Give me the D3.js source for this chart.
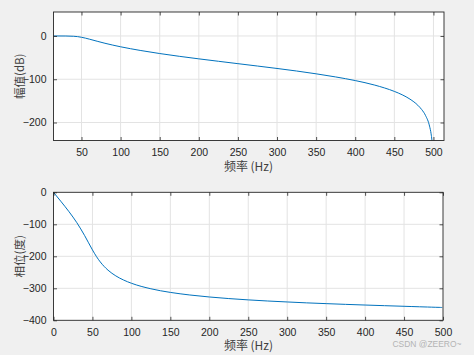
<!DOCTYPE html>
<html>
<head>
<meta charset="utf-8">
<script src="https://cdn.jsdelivr.net/npm/d3@7"></script>
<style>
  html, body { margin: 0; padding: 0; background: #f0f0f0; }
  svg { display: block; }
  text { font-family: "Liberation Sans", Arial, sans-serif; }
</style>
</head>
<body>
<svg id="chart" width="474" height="355"></svg>
<script>
// Frequency samples (Hz)
const freq = [0,10,20,30,40,45,50,55,60,70,80,90,100,125,150,175,200,225,250,275,300,325,350,375,400,425,450,460,470,480,485,490,495,497,498,499];
// Magnitude (dB)
const magDb = [0,0,0,-0.1,-0.7,-1.5,-3.0,-5.0,-7.3,-12.2,-16.9,-21.1,-25.0,-33.4,-40.6,-47.0,-52.9,-58.5,-64.0,-69.5,-75.1,-81.0,-87.5,-94.7,-103.1,-113.6,-128.1,-135.9,-146.0,-160.1,-170.1,-184.2,-208.3,-226.1,-240.2,-264.3];
// Phase (degrees)
const phaseDeg = [0,-29.9,-60.9,-95.1,-135.4,-157.8,-180,-200.3,-217.5,-243.4,-261.2,-274.2,-284.2,-301.5,-312.8,-320.9,-327.1,-332.1,-336.2,-339.7,-342.7,-345.5,-347.9,-350.2,-352.3,-354.3,-356.2,-357.0,-357.8,-358.5,-358.9,-359.3,-359.6,-359.8,-359.9,-359.9];

const topXTicks = [50,100,150,200,250,300,350,400,450,500];
const topYTicks = [0,-100,-200];
const botXTicks = [0,50,100,150,200,250,300,350,400,450,500];
const botYTicks = [0,-100,-200,-300,-400];

const xLabel = "频率 (Hz)";
const topYLabel = "幅值(dB)";
const botYLabel = "相位(度)";
const watermark = "CSDN @ZEERO~";

const svg = d3.select("#chart");
const lineColor = "#0072bd";
const axisColor = "#262626";
const gridColor = "#e3e3e3";
const tickLen = 3.5;

function panel(cfg) {
  const {left, right, top, bottom, xDomain, yDomain, xTicks, yTicks, yVals, yLabel, id} = cfg;
  const x = d3.scaleLinear().domain(xDomain).range([left, right]);
  const y = d3.scaleLinear().domain(yDomain).range([bottom, top]);
  const g = svg.append("g");

  g.append("rect").attr("x", left).attr("y", top)
    .attr("width", right - left).attr("height", bottom - top)
    .attr("fill", "#ffffff");

  // grid
  g.append("g").selectAll("line").data(xTicks.filter(t => x(t) > left + 0.5 && x(t) < right - 0.5)).join("line")
    .attr("x1", d => x(d)).attr("x2", d => x(d)).attr("y1", top).attr("y2", bottom)
    .attr("stroke", gridColor).attr("stroke-width", 1);
  g.append("g").selectAll("line").data(yTicks.filter(t => y(t) > top + 0.5 && y(t) < bottom - 0.5)).join("line")
    .attr("y1", d => y(d)).attr("y2", d => y(d)).attr("x1", left).attr("x2", right)
    .attr("stroke", gridColor).attr("stroke-width", 1);

  // clip
  svg.append("clipPath").attr("id", id).append("rect")
    .attr("x", left).attr("y", top).attr("width", right - left).attr("height", bottom - top);

  const line = d3.line().x((d, i) => x(freq[i])).y(d => y(d)).curve(d3.curveMonotoneX);
  g.append("path").datum(yVals).attr("d", line)
    .attr("fill", "none").attr("stroke", lineColor).attr("stroke-width", 1)
    .attr("clip-path", `url(#${id})`);

  // axes with inward ticks on all sides
  const xb = d3.axisBottom(x).tickValues(xTicks).tickSizeInner(-tickLen).tickSizeOuter(0).tickPadding(8).tickFormat(d3.format("d"));
  const xt = d3.axisTop(x).tickValues(xTicks).tickSizeInner(-tickLen).tickSizeOuter(0).tickFormat("");
  const yl = d3.axisLeft(y).tickValues(yTicks).tickSizeInner(-tickLen).tickSizeOuter(0).tickPadding(7).tickFormat(d3.format("d"));
  const yr = d3.axisRight(y).tickValues(yTicks).tickSizeInner(-tickLen).tickSizeOuter(0).tickFormat("");

  const axes = [
    g.append("g").attr("transform", `translate(0,${bottom})`).call(xb),
    g.append("g").attr("transform", `translate(0,${top})`).call(xt),
    g.append("g").attr("transform", `translate(${left},0)`).call(yl),
    g.append("g").attr("transform", `translate(${right},0)`).call(yr)
  ];
  axes.forEach(a => {
    a.select(".domain").remove();
    a.selectAll(".tick line").attr("stroke", axisColor).attr("stroke-width", 0.8);
    a.selectAll(".tick text").attr("fill", axisColor).style("font-size", "10.5px")
      .style("font-family", "'Liberation Sans', Arial, sans-serif");
  });

  g.append("rect").attr("x", left).attr("y", top)
    .attr("width", right - left).attr("height", bottom - top)
    .attr("fill", "none").attr("stroke", axisColor).attr("stroke-width", 0.9);

  // labels
  g.append("text").attr("x", 248.5).attr("y", bottom + 30)
    .attr("text-anchor", "middle").attr("fill", "#404040")
    .style("font-size", "12px")
    .style("font-family", "'Noto Sans CJK SC', 'Liberation Sans', sans-serif")
    .text(xLabel);
  g.append("text")
    .attr("transform", `translate(${left - 29.5},${(top + bottom) / 2}) rotate(-90)`)
    .attr("text-anchor", "middle").attr("fill", "#404040")
    .style("font-size", "11.5px")
    .style("font-family", "'Noto Sans CJK SC', 'Liberation Sans', sans-serif")
    .text(yLabel);
}

panel({id: "c1", left: 53.5, right: 444, top: 12, bottom: 140.5,
  xDomain: [14.2, 513.5], yDomain: [-241.6, 55.4],
  xTicks: topXTicks, yTicks: topYTicks, yVals: magDb, yLabel: topYLabel});

panel({id: "c2", left: 53.5, right: 443, top: 192.3, bottom: 320.3,
  xDomain: [0, 500], yDomain: [-400, 0],
  xTicks: botXTicks, yTicks: botYTicks, yVals: phaseDeg, yLabel: botYLabel});

svg.append("text").attr("x", 392.5).attr("y", 346.5)
  .attr("textLength", 69).attr("lengthAdjust", "spacingAndGlyphs")
  .attr("fill", "#b4b4b4").style("font-size", "9px")
  .style("font-family", "'Liberation Sans', Arial, sans-serif")
  .text(watermark);
</script>
</body>
</html>
